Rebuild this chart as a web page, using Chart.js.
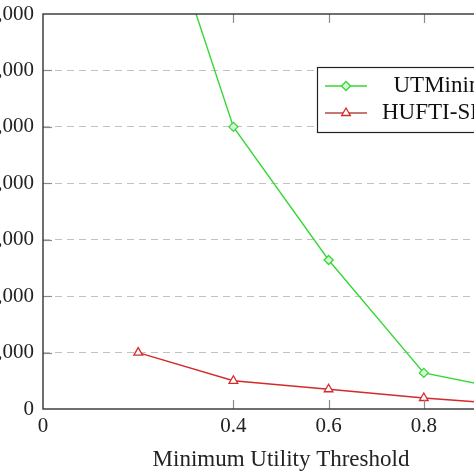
<!DOCTYPE html>
<html>
<head>
<meta charset="UTF-8">
<title>Minimum Utility Threshold</title>
<script src="https://cdn.jsdelivr.net/npm/chart.js@4.4.0/dist/chart.umd.min.js"></script>
<style>
  html,body{margin:0;padding:0;background:#fff;overflow:hidden}
  #wrap{position:relative;width:474px;height:474px;overflow:hidden}
  #chart{position:absolute;left:-14px;top:0}
</style>
</head>
<body>
<div id="wrap"><canvas id="chart" width="560" height="474"></canvas></div>
<script>
  // values
  const thresholds=[0.2,0.4,0.6,0.8,1.0];
  const utMining=[10100,5000,2640,640,300];
  const huftiSpm=[1000,500,350,195,70];
  const xTicks=[0,0.4,0.6,0.8,1];
  const yTicks=[0,1000,2000,3000,4000,5000,6000,7000];
  const seriesNames=['UTMining','HUFTI-SPM'];

  const SERIF="'Liberation Serif','Times New Roman',serif";
  const GREEN='#35d835', RED='#d42a2a';

  function pts(vals){return thresholds.map((x,i)=>({x,y:vals[i]}));}

  // pgfplots-like box with inward tick marks
  const framePlugin={
    id:'frame',
    afterDatasetsDraw(chart){
      const {ctx,chartArea:a,scales}=chart;
      ctx.save();
      ctx.strokeStyle='#8a8a8a';ctx.lineWidth=1.2;
      yTicks.slice(1,-1).forEach(v=>{
        const y=Math.round(scales.y.getPixelForValue(v))+0.5;
        ctx.beginPath();ctx.moveTo(a.left,y);ctx.lineTo(a.left+9,y);ctx.stroke();
        ctx.beginPath();ctx.moveTo(a.right,y);ctx.lineTo(a.right-9,y);ctx.stroke();
      });
      xTicks.slice(1,-1).forEach(v=>{
        const x=Math.round(scales.x.getPixelForValue(v))+0.5;
        ctx.beginPath();ctx.moveTo(x,a.bottom);ctx.lineTo(x,a.bottom-9);ctx.stroke();
        ctx.beginPath();ctx.moveTo(x,a.top);ctx.lineTo(x,a.top+9);ctx.stroke();
      });
      ctx.strokeStyle='#333';ctx.lineWidth=1.4;
      ctx.strokeRect(a.left,a.top,a.right-a.left,a.bottom-a.top);
      ctx.restore();
    }
  };

  // legend box, placed like the original
  const legendPlugin={
    id:'boxLegend',
    afterDraw(chart){
      const {ctx}=chart;
      const left=331, top=67, w=200, h=65;
      ctx.save();
      ctx.fillStyle='#fff';ctx.fillRect(left,top,w,h);
      ctx.strokeStyle='#222';ctx.lineWidth=1.2;ctx.strokeRect(left+0.5,top+0.5,w,h);
      ctx.font='23px '+SERIF;
      const wH=ctx.measureText(seriesNames[1]).width;
      const cx=left+65+wH/2;
      const rows=[{y:86,base:92,color:GREEN,line:GREEN,style:'rectRot',r:4.5,fill:'#d8f7d8'},
                  {y:113,base:119,color:RED,line:'#b04a45',style:'triangle',r:5,fill:'#fff'}];
      rows.forEach((r,i)=>{
        ctx.strokeStyle=r.line;ctx.lineWidth=1.3;
        ctx.beginPath();ctx.moveTo(left+8,r.y);ctx.lineTo(left+50,r.y);ctx.stroke();
        ctx.strokeStyle=r.color;ctx.fillStyle=r.fill;ctx.lineWidth=1.3;
        Chart.helpers.drawPoint(ctx,{pointStyle:r.style,radius:r.r,rotation:0,borderWidth:1.3},left+29,r.y);
        ctx.fillStyle='#111';ctx.textAlign='center';ctx.textBaseline='alphabetic';
        ctx.fillText(seriesNames[i],cx,r.base);
      });
      ctx.restore();
    }
  };

  new Chart(document.getElementById('chart'),{
    type:'line',
    data:{datasets:[
      {label:seriesNames[0],data:pts(utMining),borderColor:GREEN,backgroundColor:'#d8f7d8',
       borderWidth:1.4,pointStyle:'rectRot',pointRadius:4.5,pointBorderWidth:1.3,tension:0},
      {label:seriesNames[1],data:pts(huftiSpm),borderColor:RED,backgroundColor:'#fff',
       borderWidth:1.4,pointStyle:'triangle',pointRadius:5,pointBorderWidth:1.3,tension:0}
    ]},
    options:{
      responsive:false,devicePixelRatio:1,animation:false,
      layout:{padding:{top:14,left:0,right:27,bottom:0}},
      plugins:{legend:{display:false},tooltip:{enabled:false}},
      scales:{
        x:{type:'linear',min:0,max:1,
          afterBuildTicks:s=>{s.ticks=xTicks.map(v=>({value:v}));},
          afterFit:s=>{s.height=65;s.paddingLeft=0;s.paddingRight=0;},
          grid:{display:false,drawTicks:false},border:{display:false},
          ticks:{padding:5,color:'#222',font:{family:SERIF,size:21},autoSkip:false,maxRotation:0,
            callback:v=>v===0||v===1?String(v):v.toFixed(1)},
          title:{display:true,text:'Minimum Utility Threshold',color:'#222',
            font:{family:SERIF,size:23},padding:{top:0,bottom:0}}
        },
        y:{min:0,max:7000,
          afterBuildTicks:s=>{s.ticks=yTicks.map(v=>({value:v}));},
          afterFit:s=>{s.width=57;s.paddingTop=0;s.paddingBottom=0;},
          grid:{drawTicks:false,lineWidth:1,
            color:c=>(c.tick&&(c.tick.value===0||c.tick.value===7000))?'rgba(0,0,0,0)':'#c2c2c2'},
          border:{display:false,dash:[7,5]},
          ticks:{padding:9,color:'#222',font:{family:SERIF,size:21},
            callback:v=>v.toLocaleString('en-US')}
        }
      }
    },
    plugins:[framePlugin,legendPlugin]
  });
</script>
</body>
</html>
